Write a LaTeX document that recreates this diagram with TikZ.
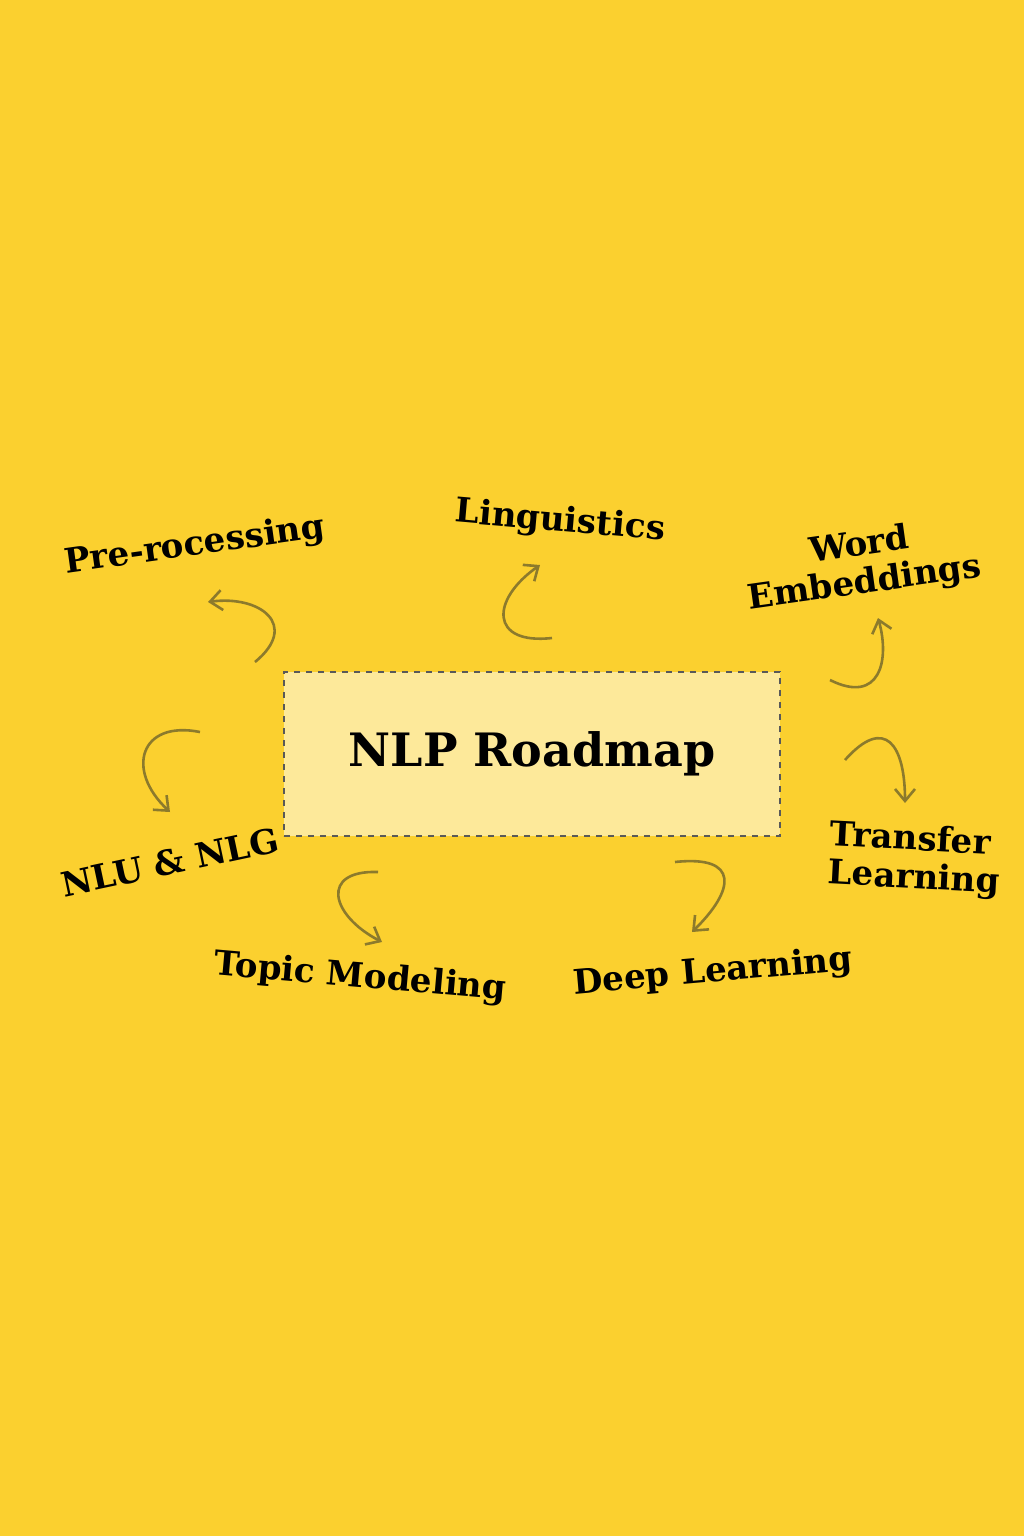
\documentclass[tikz,border=0pt]{standalone}
\usepackage{fontspec}
\setmainfont{DejaVu Serif}
\usetikzlibrary{arrows.meta}
\definecolor{bg}{HTML}{FBD02F}
\definecolor{boxfill}{HTML}{FDE99A}
\definecolor{arr}{HTML}{8C7A2C}
\tikzset{
  lbl/.style={font=\bfseries\fontsize{17}{19}\selectfont, align=center, text=black},
  curl/.style={draw=arr, line width=1.3pt, -{Straight Barb[length=6pt,width=10pt]}}
}
\begin{document}
\begin{tikzpicture}[x=0.5pt,y=-0.5pt]
\fill[bg] (0,0) rectangle (1024,1536);
\useasboundingbox (0,0) rectangle (1024,1536);
\node[draw=gray!70!black, dashed, fill=boxfill, line width=0.8pt, minimum width=248pt, minimum height=82pt, font=\bfseries\fontsize{23}{26}\selectfont] (c) at (532,754) {NLP Roadmap};
\node[lbl, rotate=8] (pre) at (195,546) {Pre-rocessing};
\node[lbl, rotate=-5] (lin) at (560,522) {Linguistics};
\node[lbl, rotate=8] (we) at (862,565) {Word\\Embeddings};
\node[lbl, rotate=-3, align=left] (tl) at (915,860) {Transfer\\Learning};
\node[lbl, rotate=5] (dl) at (713,973) {Deep Learning};
\node[lbl, rotate=-5] (tm) at (360,978) {Topic Modeling};
\node[lbl, rotate=12] (nlu) at (170,862) {NLU \& NLG};
\coordinate (a1) at (255,662); \coordinate (b1) at (208,602);
\coordinate (a2) at (552,638); \coordinate (b2) at (540,565);
\coordinate (a3) at (830,680); \coordinate (b3) at (878,618);
\coordinate (a4) at (845,760); \coordinate (b4) at (905,803);
\coordinate (a5) at (675,862); \coordinate (b5) at (692,932);
\coordinate (a6) at (378,872); \coordinate (b6) at (382,942);
\coordinate (a7) at (200,732); \coordinate (b7) at (170,812);
\draw[curl] (a1) .. controls (300,625) and (260,595) .. (b1);
\draw[curl] (a2) .. controls (490,645) and (490,600) .. (b2);
\draw[curl] (a3) .. controls (880,705) and (890,660) .. (b3);
\draw[curl] (a4) .. controls (885,715) and (905,745) .. (b4);
\draw[curl] (a5) .. controls (740,855) and (735,890) .. (b5);
\draw[curl] (a6) .. controls (320,870) and (330,915) .. (b6);
\draw[curl] (a7) .. controls (140,720) and (125,770) .. (b7);
\end{tikzpicture}
\end{document}
